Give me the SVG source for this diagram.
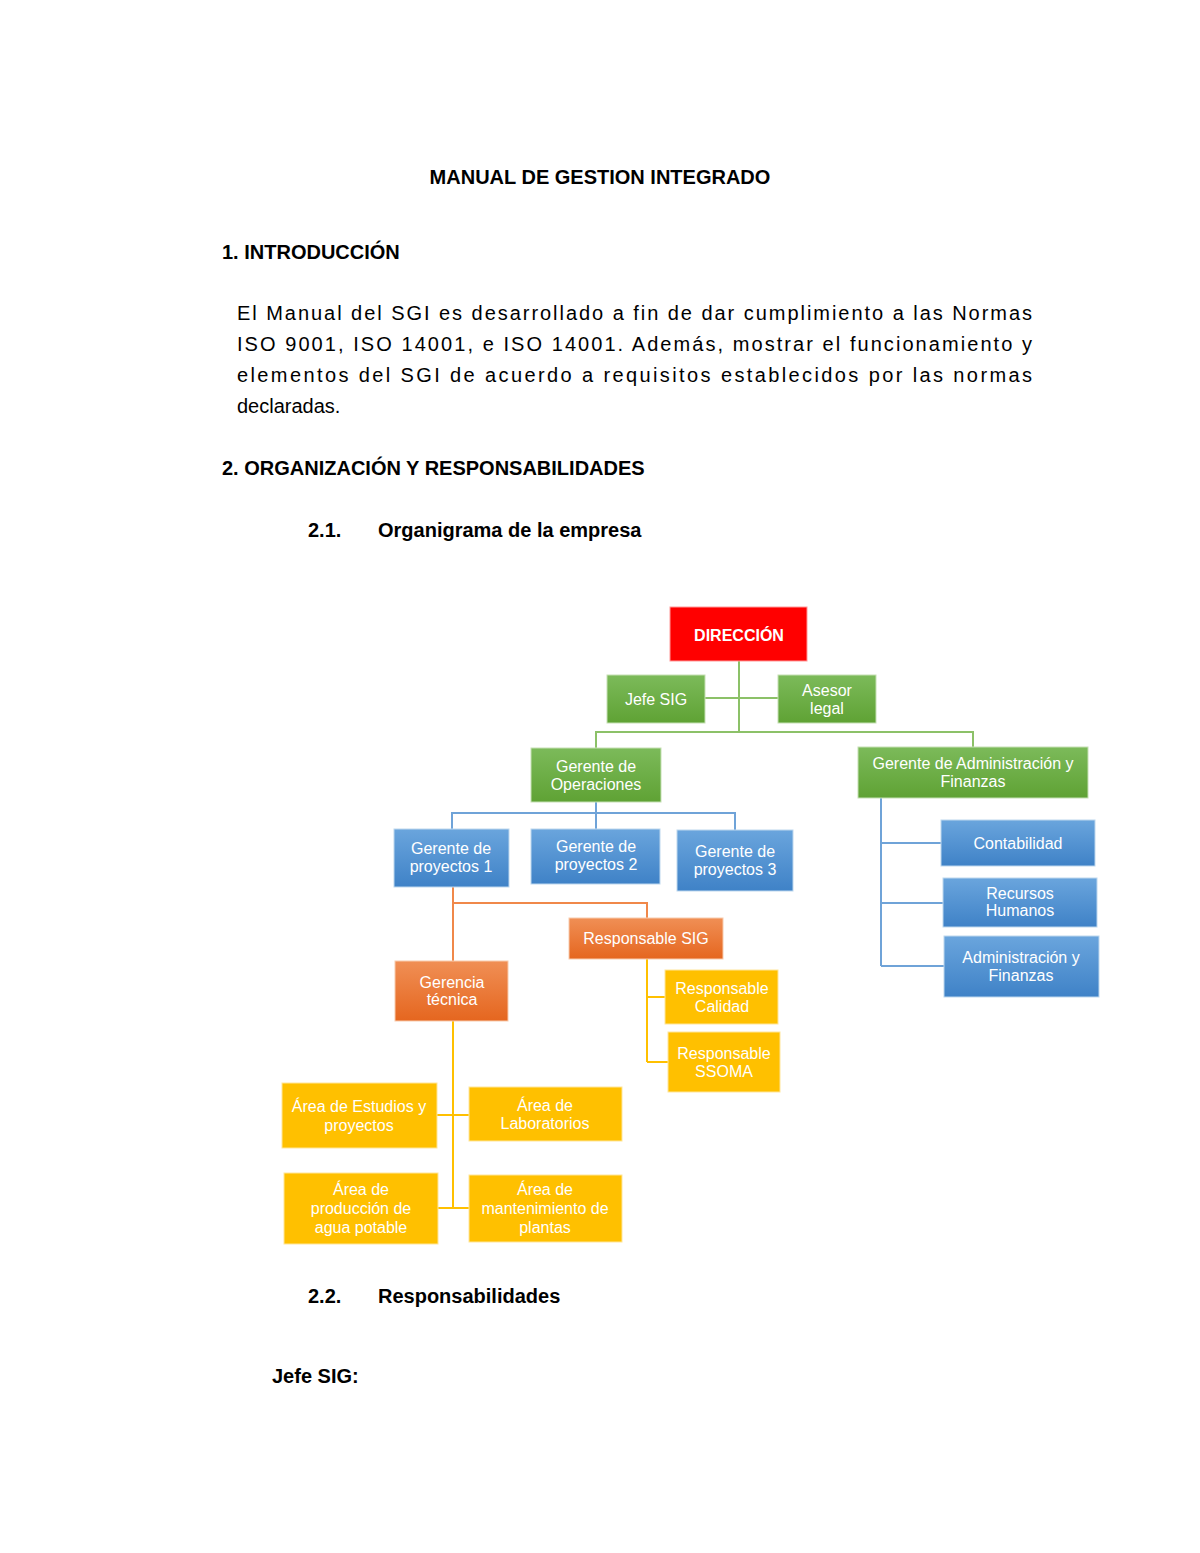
<svg xmlns="http://www.w3.org/2000/svg" width="1200" height="1553" viewBox="0 0 1200 1553">
<defs>
<linearGradient id="gg" x1="0" y1="0" x2="0" y2="1"><stop offset="0" stop-color="#7cba5a"/><stop offset="1" stop-color="#5fa234"/></linearGradient>
<linearGradient id="gb" x1="0" y1="0" x2="0" y2="1"><stop offset="0" stop-color="#6aa5dd"/><stop offset="1" stop-color="#3f82c7"/></linearGradient>
<linearGradient id="go" x1="0" y1="0" x2="0" y2="1"><stop offset="0" stop-color="#f08f55"/><stop offset="1" stop-color="#e5661f"/></linearGradient>
</defs>
<style>
.t{font-family:"Liberation Sans",Arial,sans-serif;fill:#000}
.b{font-weight:bold}
.n{font-family:"Liberation Sans",Arial,sans-serif;fill:#fff;font-size:16px;text-anchor:middle}
.g{fill:url(#gg);stroke:#c5e0b4;stroke-width:1}
.bl{fill:url(#gb);stroke:#bdd7ee;stroke-width:1}
.o{fill:url(#go);stroke:#f8cbad;stroke-width:1}
.y{fill:#ffc000;stroke:#ffe699;stroke-width:1}
.c{fill:none;stroke-width:2}
</style>
<text class="t b" x="600" y="184" font-size="20" text-anchor="middle">MANUAL DE GESTION INTEGRADO</text>
<text class="t b" x="222" y="259" font-size="20">1.  INTRODUCCIÓN</text>
<text class="t" font-size="20">
<tspan x="237" y="320" textLength="795" lengthAdjust="spacing">El Manual del SGI es desarrollado a fin de dar cumplimiento a las Normas</tspan>
<tspan x="237" y="351" textLength="795" lengthAdjust="spacing">ISO 9001, ISO 14001, e ISO 14001. Además, mostrar el funcionamiento y</tspan>
<tspan x="237" y="382" textLength="795" lengthAdjust="spacing">elementos del SGI de acuerdo a requisitos establecidos por las normas</tspan>
<tspan x="237" y="413">declaradas.</tspan>
</text>
<text class="t b" x="222" y="475" font-size="20">2.  ORGANIZACIÓN Y RESPONSABILIDADES</text>
<text class="t b" x="308" y="537" font-size="20">2.1.</text>
<text class="t b" x="378" y="537" font-size="20">Organigrama de la empresa</text>
<text class="t b" x="308" y="1303" font-size="20">2.2.</text>
<text class="t b" x="378" y="1303" font-size="20">Responsabilidades</text>
<text class="t b" x="272" y="1383" font-size="20">Jefe SIG:</text>

<g id="connectors">
<path class="c" stroke="#8cc168" d="M739 661V732M705 698H778M596 748V732H973V747"/>
<path class="c" stroke="#6fa3d8" d="M596 802V813M452 829V813H735V830M596 813V829M881 798V966M881 843H941M881 903H943M881 966H944"/>
<path class="c" stroke="#f0884a" d="M453 887V961M453 903H647V918"/>
<path class="c" stroke="#ffc000" d="M647 959V1062M647 997H665M647 1062H668M453 1021V1208M437 1115H469M438 1208H469"/>
</g>

<g id="direccion"><rect x="670" y="607" width="137" height="54" fill="#ff0000" stroke="#ff9999"/><text class="n b" x="739" y="641" font-size="19" font-weight="bold">DIRECCIÓN</text></g>
<g id="jefe-sig"><rect class="g" x="607" y="675" width="98" height="48"/><text class="n" x="656" y="705">Jefe SIG</text></g>
<g id="asesor"><rect class="g" x="778" y="675" width="98" height="48"/><text class="n" x="827" y="696">Asesor</text><text class="n" x="827" y="714">legal</text></g>
<g id="ger-op"><rect class="g" x="531" y="748" width="130" height="54"/><text class="n" x="596" y="772">Gerente de</text><text class="n" x="596" y="790">Operaciones</text></g>
<g id="ger-adm"><rect class="g" x="858" y="747" width="230" height="51"/><text class="n" x="973" y="769">Gerente de Administración y</text><text class="n" x="973" y="787">Finanzas</text></g>
<g id="gp1"><rect class="bl" x="394" y="829" width="115" height="58"/><text class="n" x="451" y="854">Gerente de</text><text class="n" x="451" y="872">proyectos 1</text></g>
<g id="gp2"><rect class="bl" x="531" y="829" width="129" height="55"/><text class="n" x="596" y="852">Gerente de</text><text class="n" x="596" y="870">proyectos 2</text></g>
<g id="gp3"><rect class="bl" x="677" y="830" width="116" height="61"/><text class="n" x="735" y="857">Gerente de</text><text class="n" x="735" y="875">proyectos 3</text></g>
<g id="contab"><rect class="bl" x="941" y="820" width="154" height="46"/><text class="n" x="1018" y="849">Contabilidad</text></g>
<g id="rrhh"><rect class="bl" x="943" y="878" width="154" height="49"/><text class="n" x="1020" y="899">Recursos</text><text class="n" x="1020" y="916">Humanos</text></g>
<g id="admfin"><rect class="bl" x="944" y="936" width="155" height="61"/><text class="n" x="1021" y="963">Administración y</text><text class="n" x="1021" y="981">Finanzas</text></g>
<g id="resp-sig"><rect class="o" x="569" y="918" width="154" height="41"/><text class="n" x="646" y="944">Responsable SIG</text></g>
<g id="ger-tec"><rect class="o" x="395" y="961" width="113" height="60"/><text class="n" x="452" y="988">Gerencia</text><text class="n" x="452" y="1005">técnica</text></g>
<g id="resp-cal"><rect class="y" x="665" y="970" width="113" height="54"/><text class="n" x="722" y="994">Responsable</text><text class="n" x="722" y="1012">Calidad</text></g>
<g id="resp-ssoma"><rect class="y" x="668" y="1032" width="112" height="60"/><text class="n" x="724" y="1059">Responsable</text><text class="n" x="724" y="1077">SSOMA</text></g>
<g id="area-est"><rect class="y" x="282" y="1083" width="155" height="65"/><text class="n" x="359" y="1112">Área de Estudios y</text><text class="n" x="359" y="1131">proyectos</text></g>
<g id="area-lab"><rect class="y" x="469" y="1087" width="153" height="54"/><text class="n" x="545" y="1111">Área de</text><text class="n" x="545" y="1129">Laboratorios</text></g>
<g id="area-prod"><rect class="y" x="284" y="1173" width="154" height="71"/><text class="n" x="361" y="1195">Área de</text><text class="n" x="361" y="1214">producción de</text><text class="n" x="361" y="1233">agua potable</text></g>
<g id="area-mant"><rect class="y" x="469" y="1175" width="153" height="67"/><text class="n" x="545" y="1195">Área de</text><text class="n" x="545" y="1214">mantenimiento de</text><text class="n" x="545" y="1233">plantas</text></g>
</svg>
